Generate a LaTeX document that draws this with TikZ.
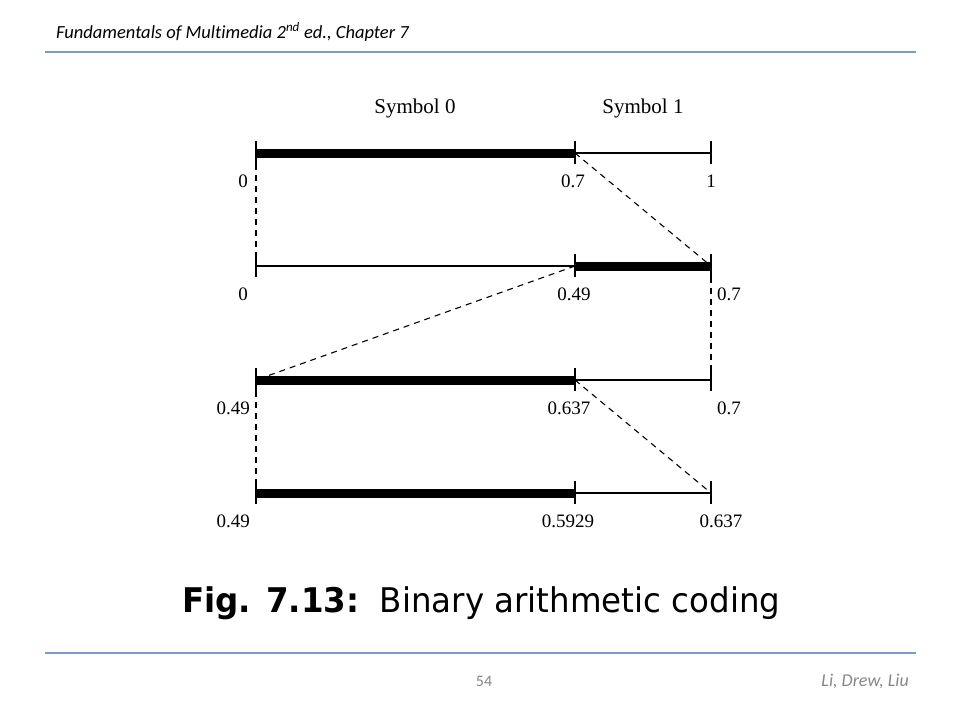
\documentclass[tikz,border=0pt]{standalone}
\usepackage{fontspec}
\usepackage{graphicx}
\setmainfont{Liberation Serif}
\newfontfamily\hdrfont[Ligatures={NoCommon}]{Carlito}
\newfontfamily\ttlfont{DejaVu Sans}
\definecolor{rulecol}{RGB}{126,155,198}
\definecolor{footgray}{RGB}{135,135,135}
\tikzset{
  thinline/.style={line width=1.3pt},
  thickbar/.style={line width=9pt},
  tickmark/.style={line width=1.7pt},
  guide/.style={dash pattern=on 6pt off 5pt, line width=1.1pt},
  numlabel/.style={font=\fontsize{19}{22}\selectfont, inner sep=0pt},
  symlabel/.style={font=\fontsize{21}{25}\selectfont, inner sep=0pt, anchor=base},
  rulestyle/.style={draw=rulecol, line width=1.2pt}
}
\begin{document}
\begin{tikzpicture}[x=1pt,y=-1pt]
\useasboundingbox (0,0) rectangle (960,720);
\fill[white] (0,0) rectangle (960,720);

% header
\node[anchor=base west, inner sep=0pt, font=\hdrfont\itshape\fontsize{18.5}{21}\selectfont] (hdr) at (56,38)
  {Fundamentals of Multimedia 2\textsuperscript{nd} ed., Chapter 7};
\coordinate (hl) at (45,52); \coordinate (hr) at (916,52);
\draw[rulestyle] (hl) -- (hr);

% coordinates of the intervals
\coordinate (L1) at (256,153); \coordinate (M1) at (575,153); \coordinate (R1) at (711,153);
\coordinate (L2) at (256,266); \coordinate (M2) at (575,266); \coordinate (R2) at (711,266);
\coordinate (L3) at (256,380); \coordinate (M3) at (575,380); \coordinate (R3) at (711,380);
\coordinate (L4) at (256,493); \coordinate (M4) at (575,493); \coordinate (R4) at (711,493);

% dashed guides
\draw[guide] (L1) -- (L2);
\draw[guide] (M1) -- (R2);
\draw[guide] (M2) -- (L3);
\draw[guide] (R2) -- (R3);
\draw[guide] (L3) -- (L4);
\draw[guide] (M3) -- (R4);

% row 1
\draw[thickbar] (L1) -- (M1);
\draw[thinline] (M1) -- (R1);
% row 2
\draw[thinline] (L2) -- (M2);
\draw[thickbar] (M2) -- (R2);
% row 3
\draw[thickbar] (L3) -- (M3);
\draw[thinline] (M3) -- (R3);
% row 4
\draw[thickbar] (L4) -- (M4);
\draw[thinline] (M4) -- (R4);

% ticks
\foreach \p in {L1,M1,R1,L2,M2,R2,L3,M3,R3,L4,M4,R4}
  \draw[tickmark] ([yshift=12pt]\p) -- ([yshift=-11pt]\p);

% symbol labels
\node[symlabel] (s0) at (415,113) {Symbol 0};
\node[symlabel] (s1) at (643,113) {Symbol 1};

% value labels
\node[numlabel, anchor=east] (l1a) at (248,181) {0};
\node[numlabel] (l1b) at (573,181) {0.7};
\node[numlabel] (l1c) at (711,181) {1};

\node[numlabel, anchor=east] (l2a) at (248,294) {0};
\node[numlabel] (l2b) at (574,294) {0.49};
\node[numlabel, anchor=west] (l2c) at (717,294) {0.7};

\node[numlabel, anchor=east] (l3a) at (250,408) {0.49};
\node[numlabel] (l3b) at (569,408) {0.637};
\node[numlabel, anchor=west] (l3c) at (717,408) {0.7};

\node[numlabel, anchor=east] (l4a) at (250,521) {0.49};
\node[numlabel] (l4b) at (568,521) {0.5929};
\node[numlabel] (l4c) at (721,521) {0.637};

% title
\node[anchor=base west, inner sep=0pt] (ttl) at (182,612)
  {\scalebox{0.955}[1]{\ttlfont\fontsize{34}{40}\selectfont\textbf{Fig. 7.13:}\ \ Binary arithmetic coding}};

% footer
\coordinate (fl) at (45,653); \coordinate (fr) at (916,653);
\draw[rulestyle] (fl) -- (fr);
\node[inner sep=0pt, text=footgray, font=\hdrfont\fontsize{16}{19}\selectfont] (pg) at (484,681) {54};
\node[anchor=east, inner sep=0pt, text=footgray, font=\hdrfont\itshape\fontsize{18}{21}\selectfont] (auth) at (909,681) {Li, Drew, Liu};
\end{tikzpicture}
\end{document}
